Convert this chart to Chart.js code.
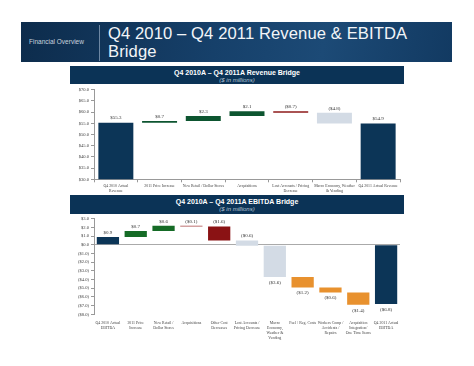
<!DOCTYPE html>
<html><head><meta charset="utf-8">
<script src="https://cdn.jsdelivr.net/npm/chart.js@4/dist/chart.umd.min.js"></script>
<style>
html,body{margin:0;padding:0;background:#fff;width:474px;height:366px;overflow:hidden;font-family:"Liberation Sans",Arial,sans-serif;}
#hdr{position:absolute;left:21px;top:22px;width:431px;height:40px;background:linear-gradient(100deg,#0d2c4c 0%,#16406a 45%,#1c4a76 70%,#123a62 100%);}
#sep{position:absolute;left:78px;top:3px;width:1px;height:36px;background:#6d87a3;}
#fo{position:absolute;left:8px;top:16px;font-size:6.5px;color:#c9d4df;}
#ttl{position:absolute;left:87px;top:3px;font-size:16.6px;line-height:18.4px;color:#f2f5f8;letter-spacing:0.1px;}
.tb{position:absolute;left:70px;width:334px;background:#0b3356;color:#fff;text-align:center;}
.tb .a{font-weight:bold;font-size:7px;line-height:8px;padding-top:3px;}
.tb .b{font-style:italic;font-size:6px;line-height:6px;color:#b8c6d4;}
canvas{position:absolute;}
</style></head><body>
<div id="hdr"><div id="fo">Financial Overview</div><div id="sep"></div><div id="ttl">Q4 2010 – Q4 2011 Revenue &amp; EBITDA<br>Bridge</div></div>
<div class="tb" style="top:66px;height:18px;"><div class="a">Q4 2010A – Q4 2011A Revenue Bridge</div><div class="b">($ in millions)</div></div>
<div class="tb" style="top:195px;height:19px;"><div class="a">Q4 2010A – Q4 2011A EBITDA Bridge</div><div class="b">($ in millions)</div></div>
<canvas id="rev" width="350" height="110" style="left:60px;top:85px;"></canvas>
<canvas id="ebt" width="350" height="146" style="left:60px;top:214px;"></canvas>
<script>
// ---- Revenue bridge data ----
const revCategories = [["Q4 2010 Actual","Revenue"],"2011 Price Increase","New Retail / Dollar Stores","Acquisitions",["Lost Accounts / Pricing","Decrease"],["Macro Economy, Weather","& Vending"],"Q4 2011 Actual Revenue"];
const revStart = 55.3;
const revChanges = [0.7, 2.3, 2.1, -0.7, -4.8];
const revEnd = 54.9;
const revTicks = {min:30, max:70, step:5};

// ---- EBITDA bridge data ----
const ebtCategories = [["Q4 2010 Actual","EBITDA"],["2011 Price","Increase"],["New Retail /","Dollar Stores"],"Acquisitions",["Other Cost","Decreases"],["Lost Accounts /","Pricing Decrease"],["Macro","Economy,","Weather &","Vending"],"Fuel / Reg. Costs",["Workers Comp /","Accidents /","Repairs"],["Acquisition","Integration/","One Time Items"],["Q4 2011 Actual","EBITDA"]];
const ebtStart = 0.9;
const ebtChanges = [0.7, 0.6, -0.1, -1.6, -0.6, -3.6, -1.2, -0.6, -1.4];
const ebtEnd = -6.8;
const ebtTicks = {min:-8, max:3, step:1};

// styles
const NAVY='#0c3557', GREEN='#0d5530', GREEN2='#156b26', RED='#8e1a1a', RED2='#8a1214', REDL='#a84545', GRAY='#d3dbe5', ORANGE='#e8912e';
const revColors=[NAVY,GREEN,GREEN,GREEN,RED,GRAY,NAVY];
const ebtColors=[NAVY,GREEN2,GREEN2,REDL,RED2,GRAY,GRAY,ORANGE,ORANGE,ORANGE,NAVY];

function bridge(start, changes, end){
  const out=[[0,start]], vals=[start]; let c=start;
  for(const d of changes){out.push([c,c+d]); vals.push(d); c+=d;}
  out.push([0,end]); vals.push(end);
  return {ranges:out, vals};
}
function money(v){const s='$'+Math.abs(v).toFixed(1); return v<0?'('+s+')':s;}

const labelPlugin={id:'lbl',afterDatasetsDraw(chart){
  const ctx=chart.ctx, meta=chart.getDatasetMeta(0), ds=chart.data.datasets[0];
  ctx.save(); ctx.font='5px "Liberation Serif"'; ctx.fillStyle='#333'; ctx.textAlign='center';
  meta.data.forEach((el,i)=>{
    const r=ds.data[i], hi=Math.max(r[0],r[1]);
    const top=Math.min(el.y,el.base), bot=Math.max(el.y,el.base);
    const t=money(ds.vals[i]);
    if(hi>0){ctx.textBaseline='bottom'; ctx.fillText(t,el.x,top-2);} else {ctx.textBaseline='top'; ctx.fillText(t,el.x,bot+3);}
  });
  ctx.restore();
}};

function make(id, cats, br, colors, tk, xh, zeroLine){
  const xFont={family:'"Liberation Serif"',size:3.9,lineHeight:1.3};
  const yFont={family:'"Liberation Serif"',size:4.6};
  return new Chart(document.getElementById(id),{
    type:'bar',
    data:{labels:cats,datasets:[{data:br.ranges,vals:br.vals,backgroundColor:colors,barPercentage:0.8,categoryPercentage:1.0,borderWidth:0}]},
    options:{responsive:false,animation:false,devicePixelRatio:1,
      layout:{padding:{top:4,right:10,left:0,bottom:0}},
      plugins:{legend:{display:false},tooltip:{enabled:false}},
      scales:{
        x:{afterFit(s){s.height=xh;},
           grid:{display:!zeroLine,drawOnChartArea:false,tickLength:3,color:'#999'},
           border:{display:!zeroLine,color:'#999'},
           ticks:{font:xFont,color:'#444',maxRotation:0,minRotation:0,autoSkip:false,padding:zeroLine?3:1}},
        y:{min:tk.min,max:tk.max,afterFit(s){s.width=34;},
           grid:{drawOnChartArea:!!zeroLine,tickLength:3,tickColor:'#999',color:c=>(zeroLine&&c.tick&&c.tick.value===0)?'#aaa':'rgba(0,0,0,0)'},
           border:{color:'#999'},
           ticks:{stepSize:tk.step,autoSkip:false,font:yFont,color:'#444',padding:2,callback:v=>money(v)}}
      }},
    plugins:[labelPlugin]
  });
}
make('rev',revCategories,bridge(revStart,revChanges,revEnd),revColors,revTicks,15.7,false);
make('ebt',ebtCategories,bridge(ebtStart,ebtChanges,ebtEnd),ebtColors,ebtTicks,45.7,true);
</script>
</body></html>
